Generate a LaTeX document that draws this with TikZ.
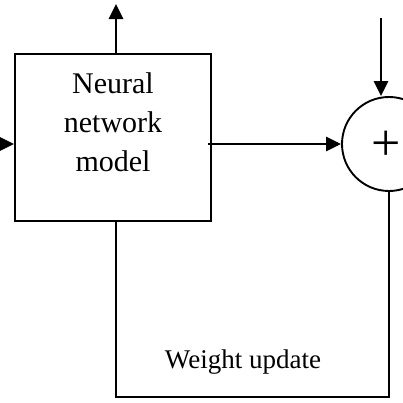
\documentclass[tikz,border=0pt]{standalone}
\usepackage{fontspec}
\setmainfont{Liberation Serif}
\usetikzlibrary{arrows.meta,positioning,calc}

\begin{document}
\begin{tikzpicture}[x=1pt,y=-1pt,>={Triangle[length=15pt,width=14pt]}]
\tikzset{block/.style={draw,line width=1.9pt,minimum width=196pt,minimum height=167pt,inner sep=0pt}, sumnode/.style={draw,circle,line width=1.9pt,minimum size=94pt,inner sep=0pt}, flow/.style={->,line width=2.8pt}, wire/.style={line width=2.1pt}}
\useasboundingbox (0,0) rectangle (403,403);
\node[block] (model) at (113,137.5) {};
\node[font=\fontsize{30}{39}\selectfont,align=center] (modeltext) at (113,122) {Neural\\network\\model};
\node[sumnode] (sum) at (389,144) {};
\node[font=\fontsize{52}{52}\selectfont] (plus) at (386,146) {+};
% inputs and outputs
\coordinate (in) at (-4,144);
\coordinate (ref) at (381,18);
\coordinate (fb) at (116,397);
\draw[flow] (in) -- (in -| model.west);
\draw[flow] ([xshift=3pt]model.north) -- ++(0,-49);
\draw[flow] ([xshift=-4pt]sum.west -| model.east) -- (sum.west);
\draw[flow] (ref) -- (ref |- sum.north);
% feedback loop
\draw[wire] (sum.south) |- (fb) -- ([xshift=3pt]model.south);
\node[font=\fontsize{27}{30}\selectfont] (wlabel) at (243,362) {Weight update};
\end{tikzpicture}
\end{document}
